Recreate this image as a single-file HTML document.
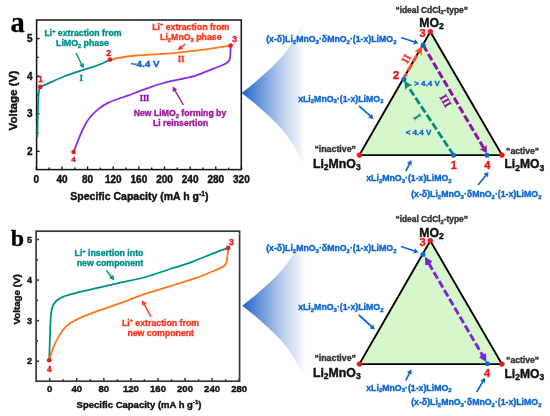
<!DOCTYPE html>
<html><head><meta charset="utf-8"><style>
html,body{margin:0;padding:0;background:#fff;overflow:hidden;width:550px;height:416px;}
svg{display:block;}
</style></head><body>
<svg width="550" height="416" viewBox="0 0 550 416">
<defs>
<linearGradient id="fang" x1="0" y1="0" x2="1" y2="0">
<stop offset="0" stop-color="#1f64c8"/>
<stop offset="0.3" stop-color="#6a97d9"/>
<stop offset="0.68" stop-color="#c2d4ef"/>
<stop offset="0.87" stop-color="#e2eaf6"/>
<stop offset="1" stop-color="#ffffff"/>
</linearGradient>
</defs>
<rect width="550" height="416" fill="#fff"/>
<text x="10.4" y="32" font-size="28.5" font-family="Liberation Serif, Times New Roman, serif" font-weight="bold" fill="#000" stroke="#000" stroke-width="0.3" stroke-linejoin="round">a</text>
<rect x="36.6" y="20" width="204.70000000000002" height="149.6" fill="none" stroke="#111" stroke-width="1.5"/>
<line x1="36.6" y1="38.60" x2="39.6" y2="38.60" stroke="#111" stroke-width="1.35"/>
<text x="32.6" y="42.20" text-anchor="end" font-size="10" font-family="Liberation Sans, Arial, sans-serif" font-weight="bold" fill="#111" stroke="#111" stroke-width="0.4" stroke-linejoin="round">5</text>
<line x1="36.6" y1="76.20" x2="39.6" y2="76.20" stroke="#111" stroke-width="1.35"/>
<text x="32.6" y="79.80" text-anchor="end" font-size="10" font-family="Liberation Sans, Arial, sans-serif" font-weight="bold" fill="#111" stroke="#111" stroke-width="0.4" stroke-linejoin="round">4</text>
<line x1="36.6" y1="113.80" x2="39.6" y2="113.80" stroke="#111" stroke-width="1.35"/>
<text x="32.6" y="117.40" text-anchor="end" font-size="10" font-family="Liberation Sans, Arial, sans-serif" font-weight="bold" fill="#111" stroke="#111" stroke-width="0.4" stroke-linejoin="round">3</text>
<line x1="36.6" y1="151.40" x2="39.6" y2="151.40" stroke="#111" stroke-width="1.35"/>
<text x="32.6" y="155.00" text-anchor="end" font-size="10" font-family="Liberation Sans, Arial, sans-serif" font-weight="bold" fill="#111" stroke="#111" stroke-width="0.4" stroke-linejoin="round">2</text>
<line x1="36.6" y1="57.40" x2="38.6" y2="57.40" stroke="#111" stroke-width="1.35"/>
<line x1="36.6" y1="95.00" x2="38.6" y2="95.00" stroke="#111" stroke-width="1.35"/>
<line x1="36.6" y1="132.60" x2="38.6" y2="132.60" stroke="#111" stroke-width="1.35"/>
<line x1="36.30" y1="169.6" x2="36.30" y2="166.4" stroke="#111" stroke-width="1.35"/>
<text x="36.30" y="182.50" text-anchor="middle" font-size="10" font-family="Liberation Sans, Arial, sans-serif" font-weight="bold" fill="#111" stroke="#111" stroke-width="0.4" stroke-linejoin="round">0</text>
<line x1="49.12" y1="169.6" x2="49.12" y2="167.6" stroke="#111" stroke-width="1.35"/>
<line x1="61.94" y1="169.6" x2="61.94" y2="166.4" stroke="#111" stroke-width="1.35"/>
<text x="61.94" y="182.50" text-anchor="middle" font-size="10" font-family="Liberation Sans, Arial, sans-serif" font-weight="bold" fill="#111" stroke="#111" stroke-width="0.4" stroke-linejoin="round">40</text>
<line x1="74.76" y1="169.6" x2="74.76" y2="167.6" stroke="#111" stroke-width="1.35"/>
<line x1="87.58" y1="169.6" x2="87.58" y2="166.4" stroke="#111" stroke-width="1.35"/>
<text x="87.58" y="182.50" text-anchor="middle" font-size="10" font-family="Liberation Sans, Arial, sans-serif" font-weight="bold" fill="#111" stroke="#111" stroke-width="0.4" stroke-linejoin="round">80</text>
<line x1="100.40" y1="169.6" x2="100.40" y2="167.6" stroke="#111" stroke-width="1.35"/>
<line x1="113.22" y1="169.6" x2="113.22" y2="166.4" stroke="#111" stroke-width="1.35"/>
<text x="113.22" y="182.50" text-anchor="middle" font-size="10" font-family="Liberation Sans, Arial, sans-serif" font-weight="bold" fill="#111" stroke="#111" stroke-width="0.4" stroke-linejoin="round">120</text>
<line x1="126.04" y1="169.6" x2="126.04" y2="167.6" stroke="#111" stroke-width="1.35"/>
<line x1="138.86" y1="169.6" x2="138.86" y2="166.4" stroke="#111" stroke-width="1.35"/>
<text x="138.86" y="182.50" text-anchor="middle" font-size="10" font-family="Liberation Sans, Arial, sans-serif" font-weight="bold" fill="#111" stroke="#111" stroke-width="0.4" stroke-linejoin="round">160</text>
<line x1="151.68" y1="169.6" x2="151.68" y2="167.6" stroke="#111" stroke-width="1.35"/>
<line x1="164.50" y1="169.6" x2="164.50" y2="166.4" stroke="#111" stroke-width="1.35"/>
<text x="164.50" y="182.50" text-anchor="middle" font-size="10" font-family="Liberation Sans, Arial, sans-serif" font-weight="bold" fill="#111" stroke="#111" stroke-width="0.4" stroke-linejoin="round">200</text>
<line x1="177.32" y1="169.6" x2="177.32" y2="167.6" stroke="#111" stroke-width="1.35"/>
<line x1="190.14" y1="169.6" x2="190.14" y2="166.4" stroke="#111" stroke-width="1.35"/>
<text x="190.14" y="182.50" text-anchor="middle" font-size="10" font-family="Liberation Sans, Arial, sans-serif" font-weight="bold" fill="#111" stroke="#111" stroke-width="0.4" stroke-linejoin="round">240</text>
<line x1="202.96" y1="169.6" x2="202.96" y2="167.6" stroke="#111" stroke-width="1.35"/>
<line x1="215.78" y1="169.6" x2="215.78" y2="166.4" stroke="#111" stroke-width="1.35"/>
<text x="215.78" y="182.50" text-anchor="middle" font-size="10" font-family="Liberation Sans, Arial, sans-serif" font-weight="bold" fill="#111" stroke="#111" stroke-width="0.4" stroke-linejoin="round">280</text>
<line x1="228.60" y1="169.6" x2="228.60" y2="167.6" stroke="#111" stroke-width="1.35"/>
<line x1="241.42" y1="169.6" x2="241.42" y2="166.4" stroke="#111" stroke-width="1.35"/>
<text x="241.42" y="182.50" text-anchor="middle" font-size="10" font-family="Liberation Sans, Arial, sans-serif" font-weight="bold" fill="#111" stroke="#111" stroke-width="0.4" stroke-linejoin="round">320</text>
<text transform="translate(17.4,100.6) rotate(-90)" text-anchor="middle" font-size="11.6" font-family="Liberation Sans, Arial, sans-serif" font-weight="bold" fill="#111" stroke="#111" stroke-width="0.4" stroke-linejoin="round">Voltage (V)</text>
<text x="139.4" y="199.8" text-anchor="middle" font-size="10.5" font-family="Liberation Sans, Arial, sans-serif" font-weight="bold" fill="#111" stroke="#111" stroke-width="0.4" stroke-linejoin="round">Specific Capacity (mA h g<tspan font-size="6.8" dy="-4.2">-1</tspan><tspan dy="4.2">)</tspan></text>
<path d="M37.30,137.00 C37.37,133.83 37.53,124.17 37.70,118.00 C37.87,111.83 38.10,104.42 38.30,100.00 C38.50,95.58 38.58,93.68 38.90,91.50 C39.22,89.32 39.98,87.67 40.20,86.90" fill="none" stroke="#00908c" stroke-width="1.8"/>
<path d="M40.20,86.90 C42.10,86.07 47.42,83.72 51.60,81.90 C55.78,80.08 60.75,77.77 65.30,76.00 C69.85,74.23 74.37,72.78 78.90,71.30 C83.43,69.82 88.63,68.40 92.50,67.10 C96.37,65.80 99.22,64.72 102.10,63.50 C104.98,62.28 108.52,60.42 109.80,59.80" fill="none" stroke="#00908c" stroke-width="1.8"/>
<path d="M109.80,59.80 C110.43,59.68 112.20,59.40 113.60,59.10 C115.00,58.80 115.92,58.43 118.20,58.00 C120.48,57.57 124.27,56.92 127.30,56.50 C130.33,56.08 132.62,55.82 136.40,55.50 C140.18,55.18 145.83,54.87 150.00,54.60 C154.17,54.33 156.78,54.23 161.40,53.90 C166.02,53.57 172.25,53.10 177.70,52.60 C183.15,52.10 188.63,51.55 194.10,50.90 C199.57,50.25 204.43,49.57 210.50,48.70 C216.57,47.83 227.17,46.20 230.50,45.70" fill="none" stroke="#ff781a" stroke-width="1.8"/>
<path d="M230.60,45.70 C230.58,46.75 230.57,50.20 230.50,52.00 C230.43,53.80 230.35,55.27 230.20,56.50 C230.05,57.73 229.92,58.55 229.60,59.40 C229.28,60.25 228.82,61.00 228.30,61.60 C227.78,62.20 227.25,62.52 226.50,63.00 C225.75,63.48 225.85,63.60 223.80,64.50 C221.75,65.40 217.40,67.12 214.20,68.40 C211.00,69.68 207.80,70.95 204.60,72.20 C201.40,73.45 198.50,74.85 195.00,75.90 C191.50,76.95 187.43,77.67 183.60,78.50 C179.77,79.33 175.63,80.07 172.00,80.90 C168.37,81.73 165.47,82.43 161.80,83.50 C158.13,84.57 153.63,86.07 150.00,87.30 C146.37,88.53 143.72,89.52 140.00,90.90 C136.28,92.28 131.35,94.25 127.70,95.60 C124.05,96.95 121.30,97.83 118.10,99.00 C114.90,100.17 111.72,101.00 108.50,102.60 C105.28,104.20 102.02,105.98 98.80,108.60 C95.58,111.22 91.75,115.07 89.20,118.30 C86.65,121.53 85.42,124.17 83.50,128.00 C81.58,131.83 79.37,137.28 77.70,141.30 C76.03,145.32 74.20,150.30 73.50,152.10" fill="none" stroke="#8a2be8" stroke-width="1.8"/>
<circle cx="40.2" cy="86.9" r="2.3" fill="#f01818"/>
<circle cx="110" cy="59.6" r="2.3" fill="#f01818"/>
<circle cx="230.6" cy="45.6" r="2.3" fill="#f01818"/>
<circle cx="73.5" cy="152" r="2.3" fill="#f01818"/>
<text x="40.6" y="82.4" text-anchor="middle" font-size="8.2" font-family="Liberation Sans, Arial, sans-serif" font-weight="bold" fill="#f01818" stroke="#f01818" stroke-width="0.4" stroke-linejoin="round">1</text>
<text x="108.5" y="56" text-anchor="middle" font-size="8.5" font-family="Liberation Sans, Arial, sans-serif" font-weight="bold" fill="#f01818" stroke="#f01818" stroke-width="0.4" stroke-linejoin="round">2</text>
<text x="234.6" y="41.5" text-anchor="middle" font-size="8.5" font-family="Liberation Sans, Arial, sans-serif" font-weight="bold" fill="#f01818" stroke="#f01818" stroke-width="0.4" stroke-linejoin="round">3</text>
<text x="73.6" y="161.9" text-anchor="middle" font-size="8" font-family="Liberation Sans, Arial, sans-serif" font-weight="bold" fill="#f01818" stroke="#f01818" stroke-width="0.4" stroke-linejoin="round">4</text>
<text x="83" y="36" text-anchor="middle" font-size="8.75" font-family="Liberation Sans, Arial, sans-serif" font-weight="bold" fill="#00908c" stroke="#00908c" stroke-width="0.4" stroke-linejoin="round">Li<tspan font-size="5.5" dy="-3.5">+</tspan><tspan dy="3.5"> extraction from</tspan></text>
<text x="82.5" y="46.4" text-anchor="middle" font-size="8.75" font-family="Liberation Sans, Arial, sans-serif" font-weight="bold" fill="#00908c" stroke="#00908c" stroke-width="0.4" stroke-linejoin="round">LiMO<tspan font-size="5.8" dy="2">2</tspan><tspan dy="-2"> phase</tspan></text>
<text x="190.8" y="29.5" text-anchor="middle" font-size="8.75" font-family="Liberation Sans, Arial, sans-serif" font-weight="bold" fill="#ff3a20" stroke="#ff3a20" stroke-width="0.4" stroke-linejoin="round">Li<tspan font-size="5.5" dy="-3.5">+</tspan><tspan dy="3.5"> extraction from</tspan></text>
<text x="190.8" y="40" text-anchor="middle" font-size="8.75" font-family="Liberation Sans, Arial, sans-serif" font-weight="bold" fill="#ff3a20" stroke="#ff3a20" stroke-width="0.4" stroke-linejoin="round">Li<tspan font-size="5.8" dy="2">2</tspan><tspan dy="-2">MnO</tspan><tspan font-size="5.8" dy="2">3</tspan><tspan dy="-2"> phase</tspan></text>
<text x="145.2" y="67.3" text-anchor="middle" font-size="9.9" font-family="Liberation Sans, Arial, sans-serif" font-weight="bold" fill="#0e66d4" stroke="#0e66d4" stroke-width="0.4" stroke-linejoin="round">~4.4 V</text>
<text x="180" y="116" text-anchor="middle" font-size="8.7" font-family="Liberation Sans, Arial, sans-serif" font-weight="bold" fill="#a0189f" stroke="#a0189f" stroke-width="0.4" stroke-linejoin="round">New LiMO<tspan font-size="5.8" dy="2">2</tspan><tspan dy="-2"> forming by</tspan></text>
<text x="180.5" y="126" text-anchor="middle" font-size="8.7" font-family="Liberation Sans, Arial, sans-serif" font-weight="bold" fill="#a0189f" stroke="#a0189f" stroke-width="0.4" stroke-linejoin="round">Li reinsertion</text>
<text x="81.3" y="81.3" text-anchor="middle" font-size="9" font-family="Liberation Serif, Times New Roman, serif" font-weight="bold" fill="#00908c" stroke="#00908c" stroke-width="0.3" stroke-linejoin="round">I</text>
<text x="181.2" y="62.4" text-anchor="middle" font-size="9" font-family="Liberation Serif, Times New Roman, serif" font-weight="bold" fill="#ff3a20" stroke="#ff3a20" stroke-width="0.3" stroke-linejoin="round">II</text>
<text x="144.5" y="100.8" text-anchor="middle" font-size="8.3" font-family="Liberation Serif, Times New Roman, serif" font-weight="bold" fill="#8a10b8" stroke="#8a10b8" stroke-width="0.3" stroke-linejoin="round">III</text>
<line x1="76.00" y1="53.00" x2="81.71" y2="64.56" stroke="#00908c" stroke-width="1.4"/>
<polygon points="83.70,68.60 79.16,65.27 83.82,62.97" fill="#00908c"/>
<line x1="185.10" y1="44.10" x2="181.15" y2="47.41" stroke="#ff3a20" stroke-width="1.4"/>
<polygon points="177.70,50.30 179.86,45.10 183.20,49.08" fill="#ff3a20"/>
<line x1="183.40" y1="105.00" x2="174.86" y2="90.29" stroke="#a0189f" stroke-width="1.4"/>
<polygon points="172.60,86.40 177.36,89.42 172.86,92.03" fill="#a0189f"/>
<text x="10.8" y="245.6" font-size="24" font-family="Liberation Serif, Times New Roman, serif" font-weight="bold" fill="#000" stroke="#000" stroke-width="0.3" stroke-linejoin="round">b</text>
<rect x="36.1" y="231.2" width="203.5" height="150.0" fill="none" stroke="#383838" stroke-width="1.7"/>
<line x1="36.1" y1="239.50" x2="39.1" y2="239.50" stroke="#383838" stroke-width="1.53"/>
<text x="32.1" y="242.74" text-anchor="end" font-size="9" font-family="Liberation Sans, Arial, sans-serif" font-weight="bold" fill="#111" stroke="#111" stroke-width="0.4" stroke-linejoin="round">5</text>
<line x1="36.1" y1="280.07" x2="39.1" y2="280.07" stroke="#383838" stroke-width="1.53"/>
<text x="32.1" y="283.31" text-anchor="end" font-size="9" font-family="Liberation Sans, Arial, sans-serif" font-weight="bold" fill="#111" stroke="#111" stroke-width="0.4" stroke-linejoin="round">4</text>
<line x1="36.1" y1="320.64" x2="39.1" y2="320.64" stroke="#383838" stroke-width="1.53"/>
<text x="32.1" y="323.88" text-anchor="end" font-size="9" font-family="Liberation Sans, Arial, sans-serif" font-weight="bold" fill="#111" stroke="#111" stroke-width="0.4" stroke-linejoin="round">3</text>
<line x1="36.1" y1="361.21" x2="39.1" y2="361.21" stroke="#383838" stroke-width="1.53"/>
<text x="32.1" y="364.45" text-anchor="end" font-size="9" font-family="Liberation Sans, Arial, sans-serif" font-weight="bold" fill="#111" stroke="#111" stroke-width="0.4" stroke-linejoin="round">2</text>
<line x1="36.1" y1="259.79" x2="38.1" y2="259.79" stroke="#383838" stroke-width="1.53"/>
<line x1="36.1" y1="300.36" x2="38.1" y2="300.36" stroke="#383838" stroke-width="1.53"/>
<line x1="36.1" y1="340.93" x2="38.1" y2="340.93" stroke="#383838" stroke-width="1.53"/>
<line x1="49.70" y1="381.2" x2="49.70" y2="378.0" stroke="#383838" stroke-width="1.53"/>
<text x="49.70" y="392.31" text-anchor="middle" font-size="9.6" font-family="Liberation Sans, Arial, sans-serif" font-weight="bold" fill="#111" stroke="#111" stroke-width="0.4" stroke-linejoin="round">0</text>
<line x1="63.23" y1="381.2" x2="63.23" y2="379.2" stroke="#383838" stroke-width="1.53"/>
<line x1="76.77" y1="381.2" x2="76.77" y2="378.0" stroke="#383838" stroke-width="1.53"/>
<text x="76.77" y="392.31" text-anchor="middle" font-size="9.6" font-family="Liberation Sans, Arial, sans-serif" font-weight="bold" fill="#111" stroke="#111" stroke-width="0.4" stroke-linejoin="round">40</text>
<line x1="90.31" y1="381.2" x2="90.31" y2="379.2" stroke="#383838" stroke-width="1.53"/>
<line x1="103.84" y1="381.2" x2="103.84" y2="378.0" stroke="#383838" stroke-width="1.53"/>
<text x="103.84" y="392.31" text-anchor="middle" font-size="9.6" font-family="Liberation Sans, Arial, sans-serif" font-weight="bold" fill="#111" stroke="#111" stroke-width="0.4" stroke-linejoin="round">80</text>
<line x1="117.38" y1="381.2" x2="117.38" y2="379.2" stroke="#383838" stroke-width="1.53"/>
<line x1="130.91" y1="381.2" x2="130.91" y2="378.0" stroke="#383838" stroke-width="1.53"/>
<text x="130.91" y="392.31" text-anchor="middle" font-size="9.6" font-family="Liberation Sans, Arial, sans-serif" font-weight="bold" fill="#111" stroke="#111" stroke-width="0.4" stroke-linejoin="round">120</text>
<line x1="144.45" y1="381.2" x2="144.45" y2="379.2" stroke="#383838" stroke-width="1.53"/>
<line x1="157.98" y1="381.2" x2="157.98" y2="378.0" stroke="#383838" stroke-width="1.53"/>
<text x="157.98" y="392.31" text-anchor="middle" font-size="9.6" font-family="Liberation Sans, Arial, sans-serif" font-weight="bold" fill="#111" stroke="#111" stroke-width="0.4" stroke-linejoin="round">160</text>
<line x1="171.52" y1="381.2" x2="171.52" y2="379.2" stroke="#383838" stroke-width="1.53"/>
<line x1="185.05" y1="381.2" x2="185.05" y2="378.0" stroke="#383838" stroke-width="1.53"/>
<text x="185.05" y="392.31" text-anchor="middle" font-size="9.6" font-family="Liberation Sans, Arial, sans-serif" font-weight="bold" fill="#111" stroke="#111" stroke-width="0.4" stroke-linejoin="round">200</text>
<line x1="198.59" y1="381.2" x2="198.59" y2="379.2" stroke="#383838" stroke-width="1.53"/>
<line x1="212.12" y1="381.2" x2="212.12" y2="378.0" stroke="#383838" stroke-width="1.53"/>
<text x="212.12" y="392.31" text-anchor="middle" font-size="9.6" font-family="Liberation Sans, Arial, sans-serif" font-weight="bold" fill="#111" stroke="#111" stroke-width="0.4" stroke-linejoin="round">240</text>
<line x1="225.66" y1="381.2" x2="225.66" y2="379.2" stroke="#383838" stroke-width="1.53"/>
<line x1="239.19" y1="381.2" x2="239.19" y2="378.0" stroke="#383838" stroke-width="1.53"/>
<text x="239.19" y="392.31" text-anchor="middle" font-size="9.6" font-family="Liberation Sans, Arial, sans-serif" font-weight="bold" fill="#111" stroke="#111" stroke-width="0.4" stroke-linejoin="round">280</text>
<text transform="translate(20.2,299.4) rotate(-90)" text-anchor="middle" font-size="9.8" font-family="Liberation Sans, Arial, sans-serif" font-weight="bold" fill="#111" stroke="#111" stroke-width="0.4" stroke-linejoin="round">Voltage (V)</text>
<text x="139" y="407.9" text-anchor="middle" font-size="9.5" font-family="Liberation Sans, Arial, sans-serif" font-weight="bold" fill="#111" stroke="#111" stroke-width="0.4" stroke-linejoin="round">Specific Capacity (mA h g<tspan font-size="6" dy="-4">-1</tspan><tspan dy="4">)</tspan></text>
<path d="M228.20,247.90 C226.38,248.55 221.08,250.37 217.30,251.80 C213.52,253.23 209.45,254.92 205.50,256.50 C201.55,258.08 197.55,259.82 193.60,261.30 C189.65,262.78 185.73,264.12 181.80,265.40 C177.87,266.68 175.98,267.07 170.00,269.00 C164.02,270.93 154.15,274.72 145.90,277.00 C137.65,279.28 128.15,280.97 120.50,282.70 C112.85,284.43 106.42,285.97 100.00,287.40 C93.58,288.83 86.37,290.27 82.00,291.30 C77.63,292.33 76.97,292.68 73.80,293.60 C70.63,294.52 65.80,295.68 63.00,296.80 C60.20,297.92 58.67,298.85 57.00,300.30 C55.33,301.75 53.95,303.55 53.00,305.50 C52.05,307.45 51.72,309.25 51.30,312.00 C50.88,314.75 50.75,317.13 50.50,322.00 C50.25,326.87 50.02,334.83 49.80,341.20 C49.58,347.57 49.30,357.03 49.20,360.20" fill="none" stroke="#00908c" stroke-width="1.8"/>
<path d="M49.20,360.20 C49.88,358.05 51.77,351.15 53.30,347.30 C54.83,343.45 56.53,340.28 58.40,337.10 C60.27,333.92 62.47,330.57 64.50,328.20 C66.53,325.83 67.88,324.67 70.60,322.90 C73.32,321.13 75.90,319.72 80.80,317.60 C85.70,315.48 93.38,312.62 100.00,310.20 C106.62,307.78 112.85,305.87 120.50,303.10 C128.15,300.33 137.42,296.48 145.90,293.60 C154.38,290.72 162.92,288.45 171.40,285.80 C179.88,283.15 189.60,280.25 196.80,277.70 C204.00,275.15 210.15,272.37 214.60,270.50 C219.05,268.63 221.55,267.83 223.50,266.50 C225.45,265.17 225.62,264.37 226.30,262.50 C226.98,260.63 227.28,257.73 227.60,255.30 C227.92,252.87 228.10,249.13 228.20,247.90" fill="none" stroke="#ff781a" stroke-width="1.8"/>
<circle cx="228.2" cy="247.9" r="2.3" fill="#f01818"/>
<circle cx="49.2" cy="360.2" r="2.3" fill="#f01818"/>
<text x="231.4" y="244.6" text-anchor="middle" font-size="8.8" font-family="Liberation Sans, Arial, sans-serif" font-weight="bold" fill="#f01818" stroke="#f01818" stroke-width="0.4" stroke-linejoin="round">3</text>
<text x="49.3" y="372.3" text-anchor="middle" font-size="8.4" font-family="Liberation Sans, Arial, sans-serif" font-weight="bold" fill="#f01818" stroke="#f01818" stroke-width="0.4" stroke-linejoin="round">4</text>
<text x="109" y="256.4" text-anchor="middle" font-size="8.75" font-family="Liberation Sans, Arial, sans-serif" font-weight="bold" fill="#00908c" stroke="#00908c" stroke-width="0.4" stroke-linejoin="round">Li<tspan font-size="5.5" dy="-3.5">+</tspan><tspan dy="3.5"> insertion into</tspan></text>
<text x="110" y="265.7" text-anchor="middle" font-size="8.75" font-family="Liberation Sans, Arial, sans-serif" font-weight="bold" fill="#00908c" stroke="#00908c" stroke-width="0.4" stroke-linejoin="round">new component</text>
<text x="160.5" y="325.6" text-anchor="middle" font-size="8.75" font-family="Liberation Sans, Arial, sans-serif" font-weight="bold" fill="#ff3a20" stroke="#ff3a20" stroke-width="0.4" stroke-linejoin="round">Li<tspan font-size="5.5" dy="-3.5">+</tspan><tspan dy="3.5"> extraction from</tspan></text>
<text x="160.7" y="335.8" text-anchor="middle" font-size="8.75" font-family="Liberation Sans, Arial, sans-serif" font-weight="bold" fill="#ff3a20" stroke="#ff3a20" stroke-width="0.4" stroke-linejoin="round">new component</text>
<line x1="106.50" y1="270.50" x2="111.44" y2="276.85" stroke="#00908c" stroke-width="1.4"/>
<polygon points="114.20,280.40 109.08,278.05 113.18,274.86" fill="#00908c"/>
<line x1="150.90" y1="316.70" x2="144.14" y2="304.16" stroke="#ff3a20" stroke-width="1.4"/>
<polygon points="142.00,300.20 146.66,303.37 142.09,305.83" fill="#ff3a20"/>
<path d="M241.6,93.0 L253.6,83.5 L266.6,72.0 L274.6,64.5 L281.6,57.0 L287.6,49.5 L291.6,43.5 L295.6,37.0 L298.6,31.5 L301.6,26.0 L304.6,20.0 L304.6,166.0 L301.6,160.0 L298.6,154.5 L295.6,149.0 L291.6,142.5 L287.6,136.5 L281.6,129.0 L274.6,121.5 L266.6,114.0 L253.6,102.5 Z" fill="url(#fang)"/>
<path d="M242.2,305.8 L254.2,296.3 L267.2,284.8 L275.2,277.3 L282.2,269.8 L288.2,262.3 L292.2,256.3 L296.2,249.8 L299.2,244.3 L302.2,238.8 L305.2,232.8 L305.2,378.8 L302.2,372.8 L299.2,367.3 L296.2,361.8 L292.2,355.3 L288.2,349.3 L282.2,341.8 L275.2,334.3 L267.2,326.8 L254.2,315.3 Z" fill="url(#fang)"/>
<text x="431.7" y="12.6" text-anchor="middle" font-size="8.4" font-family="Liberation Sans, Arial, sans-serif" font-weight="bold" fill="#333"  stroke="#333" stroke-width="0.4" stroke-linejoin="round"><tspan dy="0.00">&#8220;ideal CdCl</tspan><tspan font-size="5.71" dy="1.68">2</tspan><tspan dy="-1.68">-type&#8221;</tspan></text>
<text x="431.6" y="26.6" text-anchor="middle" font-size="12.3" font-family="Liberation Sans, Arial, sans-serif" font-weight="bold" fill="#111"  stroke="#111" stroke-width="0.4" stroke-linejoin="round"><tspan dy="0.00">MO</tspan><tspan font-size="8.61" dy="2.46">2</tspan></text>
<text x="335.2" y="151.7" text-anchor="middle" font-size="8.8" font-family="Liberation Sans, Arial, sans-serif" font-weight="bold" fill="#333"  stroke="#333" stroke-width="0.4" stroke-linejoin="round"><tspan dy="0.00">&#8220;inactive&#8221;</tspan></text>
<text x="336.8" y="167.6" text-anchor="middle" font-size="12.3" font-family="Liberation Sans, Arial, sans-serif" font-weight="bold" fill="#111"  stroke="#111" stroke-width="0.4" stroke-linejoin="round"><tspan dy="0.00">Li</tspan><tspan font-size="8.61" dy="2.46">2</tspan><tspan dy="-2.46">MnO</tspan><tspan font-size="8.61" dy="2.46">3</tspan></text>
<text x="522.6" y="153.8" text-anchor="middle" font-size="8.6" font-family="Liberation Sans, Arial, sans-serif" font-weight="bold" fill="#333"  stroke="#333" stroke-width="0.4" stroke-linejoin="round"><tspan dy="0.00">&#8220;active&#8221;</tspan></text>
<text x="524.3" y="168.3" text-anchor="middle" font-size="12.1" font-family="Liberation Sans, Arial, sans-serif" font-weight="bold" fill="#111"  stroke="#111" stroke-width="0.4" stroke-linejoin="round"><tspan dy="0.00">Li</tspan><tspan font-size="8.47" dy="2.42">2</tspan><tspan dy="-2.42">MO</tspan><tspan font-size="8.47" dy="2.42">3</tspan></text>
<text x="331.3" y="41.8" text-anchor="middle" font-size="8.75" font-family="Liberation Sans, Arial, sans-serif" font-weight="bold" fill="#0e66d4"  stroke="#0e66d4" stroke-width="0.4" stroke-linejoin="round"><tspan dy="0.00">(x-&#948;)Li</tspan><tspan font-size="5.95" dy="1.75">2</tspan><tspan dy="-1.75">MnO</tspan><tspan font-size="5.95" dy="1.75">3</tspan><tspan dy="-1.75">&#183;&#948;MnO</tspan><tspan font-size="5.95" dy="1.75">2</tspan><tspan dy="-1.75">&#183;(1-x)LiMO</tspan><tspan font-size="5.95" dy="1.75">2</tspan></text>
<text x="340.8" y="101.6" text-anchor="middle" font-size="8.75" font-family="Liberation Sans, Arial, sans-serif" font-weight="bold" fill="#0e66d4"  stroke="#0e66d4" stroke-width="0.4" stroke-linejoin="round"><tspan dy="0.00">xLi</tspan><tspan font-size="5.95" dy="1.75">2</tspan><tspan dy="-1.75">MnO</tspan><tspan font-size="5.95" dy="1.75">3</tspan><tspan dy="-1.75">&#183;(1-x)LiMO</tspan><tspan font-size="5.95" dy="1.75">2</tspan></text>
<text x="408.9" y="181.2" text-anchor="middle" font-size="8.75" font-family="Liberation Sans, Arial, sans-serif" font-weight="bold" fill="#0e66d4"  stroke="#0e66d4" stroke-width="0.4" stroke-linejoin="round"><tspan dy="0.00">xLi</tspan><tspan font-size="5.95" dy="1.75">2</tspan><tspan dy="-1.75">MnO</tspan><tspan font-size="5.95" dy="1.75">3</tspan><tspan dy="-1.75">&#183;(1-x)LiMO</tspan><tspan font-size="5.95" dy="1.75">2</tspan></text>
<text x="476.3" y="197" text-anchor="middle" font-size="8.75" font-family="Liberation Sans, Arial, sans-serif" font-weight="bold" fill="#0e66d4"  stroke="#0e66d4" stroke-width="0.4" stroke-linejoin="round"><tspan dy="0.00">(x-&#948;)Li</tspan><tspan font-size="5.95" dy="1.75">2</tspan><tspan dy="-1.75">MnO</tspan><tspan font-size="5.95" dy="1.75">3</tspan><tspan dy="-1.75">&#183;&#948;MnO</tspan><tspan font-size="5.95" dy="1.75">2</tspan><tspan dy="-1.75">&#183;(1-x)LiMO</tspan><tspan font-size="5.95" dy="1.75">2</tspan></text>
<line x1="401.00" y1="37.50" x2="414.61" y2="42.01" stroke="#0e66d4" stroke-width="1.7"/>
<polygon points="418.50,43.30 413.28,44.42 414.98,39.29" fill="#0e66d4"/>
<line x1="359.00" y1="105.80" x2="370.47" y2="116.24" stroke="#0e66d4" stroke-width="1.7"/>
<polygon points="373.50,119.00 368.28,117.90 371.92,113.91" fill="#0e66d4"/>
<line x1="478.00" y1="185.00" x2="486.01" y2="175.18" stroke="#0e66d4" stroke-width="1.7"/>
<polygon points="488.60,172.00 487.79,177.27 483.60,173.86" fill="#0e66d4"/>
<line x1="405.90" y1="171.00" x2="409.57" y2="163.67" stroke="#0e66d4" stroke-width="1.7"/>
<polygon points="411.40,160.00 411.76,165.32 406.93,162.91" fill="#0e66d4"/>
<polygon points="430.3,31.7 359.4,155.1 502,155.1" fill="#d6f6cc" stroke="#000" stroke-width="1.9" stroke-linejoin="miter"/>
<circle cx="430.3" cy="31.7" r="2.7" fill="#f01818"/>
<circle cx="359.4" cy="155.1" r="2.7" fill="#f01818"/>
<circle cx="502" cy="155.1" r="2.7" fill="#f01818"/>
<text x="431.7" y="221.9" text-anchor="middle" font-size="8.4" font-family="Liberation Sans, Arial, sans-serif" font-weight="bold" fill="#333"  stroke="#333" stroke-width="0.4" stroke-linejoin="round"><tspan dy="0.00">&#8220;ideal CdCl</tspan><tspan font-size="5.71" dy="1.68">2</tspan><tspan dy="-1.68">-type&#8221;</tspan></text>
<text x="431.6" y="236.5" text-anchor="middle" font-size="12.3" font-family="Liberation Sans, Arial, sans-serif" font-weight="bold" fill="#111"  stroke="#111" stroke-width="0.4" stroke-linejoin="round"><tspan dy="0.00">MO</tspan><tspan font-size="8.61" dy="2.46">2</tspan></text>
<text x="335.2" y="361.0" text-anchor="middle" font-size="8.8" font-family="Liberation Sans, Arial, sans-serif" font-weight="bold" fill="#333"  stroke="#333" stroke-width="0.4" stroke-linejoin="round"><tspan dy="0.00">&#8220;inactive&#8221;</tspan></text>
<text x="336.8" y="376.9" text-anchor="middle" font-size="12.3" font-family="Liberation Sans, Arial, sans-serif" font-weight="bold" fill="#111"  stroke="#111" stroke-width="0.4" stroke-linejoin="round"><tspan dy="0.00">Li</tspan><tspan font-size="8.61" dy="2.46">2</tspan><tspan dy="-2.46">MnO</tspan><tspan font-size="8.61" dy="2.46">3</tspan></text>
<text x="522.6" y="363.1" text-anchor="middle" font-size="8.6" font-family="Liberation Sans, Arial, sans-serif" font-weight="bold" fill="#333"  stroke="#333" stroke-width="0.4" stroke-linejoin="round"><tspan dy="0.00">&#8220;active&#8221;</tspan></text>
<text x="524.3" y="377.6" text-anchor="middle" font-size="12.1" font-family="Liberation Sans, Arial, sans-serif" font-weight="bold" fill="#111"  stroke="#111" stroke-width="0.4" stroke-linejoin="round"><tspan dy="0.00">Li</tspan><tspan font-size="8.47" dy="2.42">2</tspan><tspan dy="-2.42">MO</tspan><tspan font-size="8.47" dy="2.42">3</tspan></text>
<text x="331.3" y="250.8" text-anchor="middle" font-size="8.75" font-family="Liberation Sans, Arial, sans-serif" font-weight="bold" fill="#0e66d4"  stroke="#0e66d4" stroke-width="0.4" stroke-linejoin="round"><tspan dy="0.00">(x-&#948;)Li</tspan><tspan font-size="5.95" dy="1.75">2</tspan><tspan dy="-1.75">MnO</tspan><tspan font-size="5.95" dy="1.75">3</tspan><tspan dy="-1.75">&#183;&#948;MnO</tspan><tspan font-size="5.95" dy="1.75">2</tspan><tspan dy="-1.75">&#183;(1-x)LiMO</tspan><tspan font-size="5.95" dy="1.75">2</tspan></text>
<text x="340.8" y="310.4" text-anchor="middle" font-size="8.75" font-family="Liberation Sans, Arial, sans-serif" font-weight="bold" fill="#0e66d4"  stroke="#0e66d4" stroke-width="0.4" stroke-linejoin="round"><tspan dy="0.00">xLi</tspan><tspan font-size="5.95" dy="1.75">2</tspan><tspan dy="-1.75">MnO</tspan><tspan font-size="5.95" dy="1.75">3</tspan><tspan dy="-1.75">&#183;(1-x)LiMO</tspan><tspan font-size="5.95" dy="1.75">2</tspan></text>
<text x="408.9" y="390.5" text-anchor="middle" font-size="8.75" font-family="Liberation Sans, Arial, sans-serif" font-weight="bold" fill="#0e66d4"  stroke="#0e66d4" stroke-width="0.4" stroke-linejoin="round"><tspan dy="0.00">xLi</tspan><tspan font-size="5.95" dy="1.75">2</tspan><tspan dy="-1.75">MnO</tspan><tspan font-size="5.95" dy="1.75">3</tspan><tspan dy="-1.75">&#183;(1-x)LiMO</tspan><tspan font-size="5.95" dy="1.75">2</tspan></text>
<text x="476.3" y="405" text-anchor="middle" font-size="8.75" font-family="Liberation Sans, Arial, sans-serif" font-weight="bold" fill="#0e66d4"  stroke="#0e66d4" stroke-width="0.4" stroke-linejoin="round"><tspan dy="0.00">(x-&#948;)Li</tspan><tspan font-size="5.95" dy="1.75">2</tspan><tspan dy="-1.75">MnO</tspan><tspan font-size="5.95" dy="1.75">3</tspan><tspan dy="-1.75">&#183;&#948;MnO</tspan><tspan font-size="5.95" dy="1.75">2</tspan><tspan dy="-1.75">&#183;(1-x)LiMO</tspan><tspan font-size="5.95" dy="1.75">2</tspan></text>
<line x1="401.00" y1="246.50" x2="414.61" y2="251.01" stroke="#0e66d4" stroke-width="1.7"/>
<polygon points="418.50,252.30 413.28,253.42 414.98,248.29" fill="#0e66d4"/>
<line x1="358.90" y1="315.00" x2="371.86" y2="326.75" stroke="#0e66d4" stroke-width="1.7"/>
<polygon points="374.90,329.50 369.68,328.41 373.30,324.41" fill="#0e66d4"/>
<line x1="476.70" y1="392.00" x2="482.93" y2="381.34" stroke="#0e66d4" stroke-width="1.7"/>
<polygon points="485.00,377.80 485.01,383.13 480.35,380.41" fill="#0e66d4"/>
<line x1="405.90" y1="380.30" x2="409.57" y2="372.97" stroke="#0e66d4" stroke-width="1.7"/>
<polygon points="411.40,369.30 411.76,374.62 406.93,372.21" fill="#0e66d4"/>
<polygon points="430.3,240.8 359.4,364.1 501.9,364.1" fill="#d6f6cc" stroke="#000" stroke-width="1.9" stroke-linejoin="miter"/>
<circle cx="430.3" cy="240.8" r="2.7" fill="#f01818"/>
<circle cx="359.4" cy="364.1" r="2.7" fill="#f01818"/>
<circle cx="501.9" cy="364.1" r="2.7" fill="#f01818"/>
<line x1="453.50" y1="155.00" x2="407.82" y2="86.11" stroke="#008a84" stroke-width="2.8" stroke-dasharray="7.5 2.7"/>
<polygon points="404.30,80.80 412.58,85.51 407.82,86.11 405.41,90.26" fill="#008a84"/>
<line x1="402.90" y1="79.50" x2="419.00" y2="51.81" stroke="#ff5020" stroke-width="3" stroke-dasharray="7.5 2.7"/>
<polygon points="422.20,46.30 421.56,55.76 419.00,51.81 414.30,51.54" fill="#ff5020"/>
<line x1="423.10" y1="45.10" x2="483.95" y2="148.45" stroke="#8c12a4" stroke-width="3" stroke-dasharray="7.5 2.7"/>
<polygon points="486.80,153.30 479.38,148.97 483.95,148.45 486.61,144.71" fill="#8c12a4"/>
<circle cx="423.1" cy="45.1" r="2.5" fill="#0e66d4"/>
<circle cx="403.9" cy="79.5" r="2.5" fill="#0e66d4"/>
<circle cx="453.5" cy="155.2" r="2.5" fill="#0e66d4"/>
<circle cx="487" cy="155.2" r="2.5" fill="#0e66d4"/>
<text x="422.6" y="36.9" text-anchor="middle" font-size="11" font-family="Liberation Sans, Arial, sans-serif" font-weight="bold" fill="#f01818" stroke="#f01818" stroke-width="0.4" stroke-linejoin="round">3</text>
<text x="396" y="79.2" text-anchor="middle" font-size="11.6" font-family="Liberation Sans, Arial, sans-serif" font-weight="bold" fill="#f01818" stroke="#f01818" stroke-width="0.4" stroke-linejoin="round">2</text>
<text x="453.8" y="169.2" text-anchor="middle" font-size="11" font-family="Liberation Sans, Arial, sans-serif" font-weight="bold" fill="#f01818" stroke="#f01818" stroke-width="0.4" stroke-linejoin="round">1</text>
<text x="487.4" y="169.2" text-anchor="middle" font-size="11" font-family="Liberation Sans, Arial, sans-serif" font-weight="bold" fill="#f01818" stroke="#f01818" stroke-width="0.4" stroke-linejoin="round">4</text>
<text x="427" y="86.3" text-anchor="middle" font-size="8" font-family="Liberation Sans, Arial, sans-serif" font-weight="bold" fill="#0e66d4" stroke="#0e66d4" stroke-width="0.4" stroke-linejoin="round">&gt; 4.4 V</text>
<text x="418.5" y="135.3" text-anchor="middle" font-size="8" font-family="Liberation Sans, Arial, sans-serif" font-weight="bold" fill="#0e66d4" stroke="#0e66d4" stroke-width="0.4" stroke-linejoin="round">&lt; 4.4 V</text>
<text transform="translate(406.3,58.6) rotate(-61)" text-anchor="middle" dy="3.7" font-size="11" font-family="Liberation Serif, Times New Roman, serif" font-weight="bold" fill="#ff3a20" stroke="#ff3a20" stroke-width="0.3" stroke-linejoin="round">II</text>
<text transform="translate(417.3,116.8) rotate(56.6)" text-anchor="middle" dy="3.7" font-size="11" font-family="Liberation Serif, Times New Roman, serif" font-weight="bold" fill="#00908c" stroke="#00908c" stroke-width="0.3" stroke-linejoin="round">I</text>
<text transform="translate(445.7,100.7) rotate(59.8)" text-anchor="middle" dy="3.7" font-size="11" font-family="Liberation Serif, Times New Roman, serif" font-weight="bold" fill="#8c12a4" stroke="#8c12a4" stroke-width="0.3" stroke-linejoin="round">III</text>
<line x1="428.69" y1="263.27" x2="482.61" y2="355.43" stroke="#7d22dc" stroke-width="2.9" stroke-dasharray="7.5 2.8"/>
<polygon points="424.90,256.80 425.24,265.29 429.45,264.57 432.14,261.25" fill="#7d22dc"/>
<polygon points="486.40,361.90 479.16,357.45 481.85,354.13 486.06,353.41" fill="#7d22dc"/>
<circle cx="423" cy="254.4" r="2.5" fill="#0e66d4"/>
<circle cx="487.4" cy="363.8" r="2.5" fill="#0e66d4"/>
<text x="422.6" y="246.3" text-anchor="middle" font-size="11" font-family="Liberation Sans, Arial, sans-serif" font-weight="bold" fill="#f01818" stroke="#f01818" stroke-width="0.4" stroke-linejoin="round">3</text>
<text x="487" y="376.6" text-anchor="middle" font-size="11" font-family="Liberation Sans, Arial, sans-serif" font-weight="bold" fill="#f01818" stroke="#f01818" stroke-width="0.4" stroke-linejoin="round">4</text>
</svg>
</body></html>
